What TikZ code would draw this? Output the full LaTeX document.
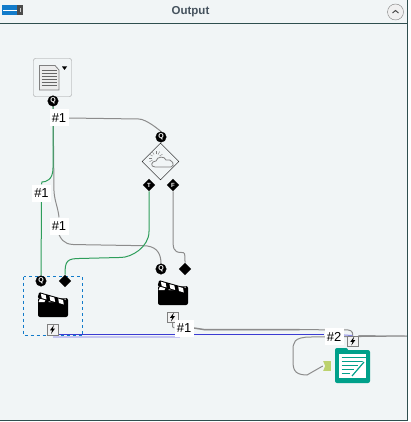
\documentclass[tikz,border=0pt]{standalone}
\usepackage{fontspec}
\setmainfont{Liberation Sans}
\usetikzlibrary{arrows.meta, calc, shapes.geometric}
\definecolor{panelbg}{HTML}{F1F5F6}
\definecolor{panelline}{HTML}{2F4F4F}
\definecolor{titlecol}{HTML}{46535E}
\definecolor{wiregrey}{HTML}{8C8C8C}
\definecolor{wiregreen}{HTML}{2E9E5B}
\definecolor{wireblue}{HTML}{3B3BD2}
\definecolor{tealbox}{HTML}{00A08A}
\definecolor{tagcol}{HTML}{BCD26E}
\pgfdeclarelayer{wires}
\pgfsetlayers{wires,main}
\tikzset{
	wire/.style={draw=wiregrey,line width=1pt},
	greenwire/.style={draw=wiregreen,line width=1pt},
	bluewire/.style={draw=wireblue,line width=1pt},
	hashlabel/.style={fill=white,inner sep=0pt,minimum width=19pt,minimum height=17pt,font=\fontsize{13}{13}\selectfont},
	qport/.style={circle,fill=black,draw=black,inner sep=0pt,minimum size=10.5pt,text=white,font=\fontsize{7}{7}\selectfont\bfseries},
	dport/.style={diamond,fill=black,inner sep=0pt,minimum size=12.5pt,text=white,font=\fontsize{6}{6}\selectfont\bfseries},
	boltbox/.style={draw=gray,fill=white!90!gray,inner sep=0pt,minimum size=10.5pt},
}
% film clapper, centred on the body
\newcommand{\clapper}[2]{
	\begin{scope}[shift={(#1,#2)}]
		\fill[black,rounded corners=2pt] (-15,-9.5) rectangle (15,9.5);
		\foreach \s in {-10,0,10}
			\fill[white] (\s-3,-9) -- (\s+3,-9) -- (\s+1.5,-5.5) -- (\s-4.5,-5.5) -- cycle;
		\begin{scope}[rotate around={-16:(-15,-11)}]
			\fill[black,rounded corners=1pt] (-15,-15.5) rectangle (13,-9.5);
			\foreach \s in {-10,-1,8}
				\fill[white] (\s-3,-14.5) -- (\s+2,-14.5) -- (\s+4,-10.5) -- (\s-1,-10.5) -- cycle;
		\end{scope}
	\end{scope}
}
\begin{document}
\begin{tikzpicture}[x=1pt,y=-1pt]
	\useasboundingbox (0,0) rectangle (411,422);
	\begin{pgfonlayer}{wires}
		\fill[panelbg] (0,0) rectangle (411,422);
	\end{pgfonlayer}
	\fill[white] (408,0) rectangle (411,422);
	\fill[white] (0,421) rectangle (411,422);
	\draw[panelline,line width=1pt] (0,23.5) -- (407.5,23.5);
	\draw[panelline,line width=1pt] (407.5,0) -- (407.5,420.5) -- (0,420.5);
	% title bar
	\fill[cyan!60!blue] (2,5) rectangle (17,15);
	\draw[white] (3,10) -- (17,10);
	\fill[black!70] (17,5) rectangle (23,15);
	\fill[gray!40] (20,8) rectangle (21,12);
	\node[text=titlecol,font=\fontsize{11.5}{12}\selectfont\bfseries] (title) at (190.5,12) {Output};
	\node[circle,draw=gray,fill=gray!12,minimum size=16pt,inner sep=0pt] (collapse) at (395.5,12) {};
	\draw[line width=1pt,black!70] (392.5,13) -- (395.5,10.5) -- (398.5,13);
	% input tool
	\node[draw=gray!80,fill=panelbg,rounded corners=2pt,minimum size=38pt,inner sep=0pt] (inputBox) at (52.5,77.5) {};
	\draw[gray,fill=gray!15,line width=0.8pt] (39.5,65.5) -- (55,65.5) -- (59,70) -- (59,90) -- (39.5,90) -- cycle;
	\foreach \y in {70,73,76,79,82,85}
		\draw[black!60] (41.5,\y) -- (57,\y);
	\fill[black] (62,66.5) -- (67,66.5) -- (64.5,70) -- cycle;
	\node[qport] (qInput) at (53,101) {Q};
	% filter tool
	\node[diamond,draw=black,fill=panelbg,minimum size=37pt,inner sep=0pt] (filterBox) at (160.5,161.5) {};
	\draw[gray,fill=panelbg,line width=0.8pt] (155,167) .. controls (150,167) and (151,161) .. (156,161) .. controls (157,156) and (165,156) .. (166,160) .. controls (172,158) and (176,166) .. (171,167) -- cycle;
	\foreach \a in {150,180,210,240,270,300,330}
		\draw[gray] ($(156,158)+(\a:4)$) -- ($(156,158)+(\a:7.5)$);
	\node[qport] (qFilter) at (161,137) {Q};
	\node[dport] (tFilter) at (149,185) {T};
	\node[dport] (fFilter) at (173,185) {F};
	% first clapper tool
	\draw[cyan!60!blue,dashed,line width=0.8pt] (23.5,276.5) rectangle (82.5,335.5);
	\clapper{53}{307.5}
	\node[qport] (qLeft) at (41,281) {Q};
	\node[dport] (dLeft) at (65,281) {};
	\node[boltbox] (boltLeft) at (52.5,329.5) {};
	% second clapper tool
	\clapper{173}{295.5}
	\node[qport] (qRight) at (161,269) {Q};
	\node[dport] (dRight) at (185,269) {};
	\node[boltbox] (boltRight) at (172.5,317) {};
	% report tool
	\fill[tealbox,rounded corners=2pt] (335,348) rectangle (348,354) (335,350) rectangle (370,383);
	\fill[white] (339,354) rectangle (366,378);
	\foreach \y/\w in {357.5/24,361.5/21,365.5/16,369.5/12,373.5/8}
		\draw[tealbox,line width=1.6pt] (341.5,\y) -- ++(\w,0);
	\draw[white,line width=2.5pt] (352,376) -- (365,361);
	\draw[tealbox,line width=1.2pt] (352,376) -- (364,362);
	\node[boltbox] (boltOut) at (352.8,341) {};
	\foreach \b in {boltLeft,boltRight,boltOut}
		\fill[black] ($(\b)+(1.5,-4.5)$) -- ($(\b)+(-2.5,0.8)$) -- ($(\b)+(-0.3,0.8)$) -- ($(\b)+(-1.5,4.5)$) -- ($(\b)+(2.5,-1)$) -- ($(\b)+(0.3,-1)$) -- cycle;
	\node[fill=tagcol,inner sep=0pt,minimum width=8pt,minimum height=10pt] (tagOut) at (327,366) {};
	\fill[panelbg] (323,361) -- (325,366) -- (323,371) -- cycle;
	% labels
	\node[hashlabel] (hashA) at (59,118) {\#1};
	\node[hashlabel] (hashB) at (41.5,193) {\#1};
	\node[hashlabel] (hashC) at (59,226) {\#1};
	\node[hashlabel] (hashD) at (184,328) {\#1};
	\node[hashlabel] (hashE) at (334,336.5) {\#2};
	\coordinate (rightEnd) at (411,336);
	\coordinate (wireTurn) at ($(hashE.north east)+(0,2)$);
	\begin{pgfonlayer}{wires}
		\draw[wire] (hashA.east) -- ++(70,1) .. controls ++(8,0) and (qFilter.north) .. (qFilter.north);
		\draw[wire] (qInput) -- ++(1,90) .. controls ++(0.5,10) and ++(-1,-10) .. (hashC.north);
		\draw[wire] (hashC.south) .. controls ++(5,10) and ++(-15,0) .. ++(24,10) -- ++(60,1) .. controls ++(12,0) and ++(0,-12) .. (qRight.north);
		\draw[greenwire] (qInput) -- ++(0,67) .. controls ++(0,12) and ++(4,0) .. ++(-11,14) -- (hashB.north);
		\draw[greenwire] (hashB.south) -- (qLeft.north);
		\draw[greenwire] (tFilter.south) -- ++(0,40) .. controls ++(0,16) and ++(10,0) .. ++(-28,26) -- ++(-40,1) .. controls ++(-14,0) and ++(0,-14) .. (dLeft.north);
		\draw[wire] (fFilter.south) -- ++(0,46) .. controls ++(0,10) and ++(-8,0) .. ++(8,15) .. controls ++(4,0) .. (dRight.north);
		\fill[wireblue!30] (53,336) rectangle (180,337.5);
		\draw[bluewire] (boltLeft.south) -- (boltLeft.south -| hashE.west);
		\draw[wireblue!60,line width=1pt] (hashE.east |- boltLeft.south) -- (boltOut.north);
		\draw[wire] (boltRight.south) .. controls ++(0,5) .. (hashD.west);
		\draw[wire,line width=1.5pt] (hashD.east) -- ++(10,1.5) -- ++(96,0);
		\draw[wire] (hashD.east) ++(10,1.5) -- (wireTurn) .. controls ++(7,0) and ++(0,-5) .. (boltOut.north);
		\draw[black!60] (rightEnd) -- (boltOut.north east);
		\draw[wire] (rightEnd) -- ++(-100,1) .. controls ++(-18,0) and ++(0,-8) .. ++(-18,14) -- ++(0,8) .. controls ++(0,9) and ++(-14,0) .. ++(14,16) -- (tagOut.west);
	\end{pgfonlayer}
\end{tikzpicture}
\end{document}
